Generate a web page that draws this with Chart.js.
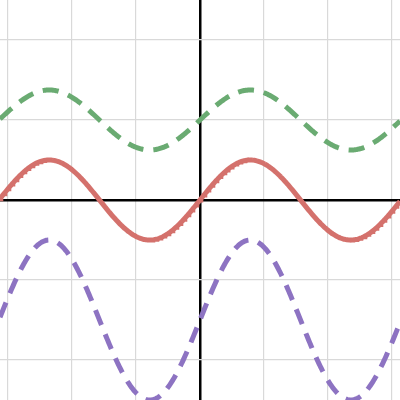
<!DOCTYPE html>
<html><head><meta charset="utf-8">
<script src="https://cdn.jsdelivr.net/npm/chart.js@4"></script>
<style>html,body{margin:0;padding:0;background:#fff}canvas{display:block}</style>
</head><body>
<canvas id="c" width="400" height="400"></canvas>
<script>
// Curves: y = offset + amplitude * sin(x)
const seriesNames = ["red", "green", "purple"];
const amplitudes = [1, 0.75, 2];
const offsets = [0, 2, -3];
const xTicks = [-6, -4, -2, 0, 2, 4, 6];
const yTicks = [-4, -2, 0, 2, 4];
const colors = ["#d4716c", "#6aab72", "#8d73c2"];
const dashes = [[], [16, 10], [16, 10]];

const xs = [];
for (let i = 0; i <= 500; i++) xs.push(-6.25 + i * 12.5 / 500);

const datasets = seriesNames.map((n, k) => ({
  label: n,
  data: xs.map(x => ({x, y: offsets[k] + amplitudes[k] * Math.sin(x)})),
  borderColor: colors[k], borderWidth: 5, borderDash: dashes[k],
  pointRadius: 0, showLine: true, fill: false, tension: 0
}));

const gridOpt = {
  color: c => c.tick && c.tick.value === 0 ? "#000" : "#d9d9d9",
  lineWidth: c => c.tick && c.tick.value === 0 ? 2.5 : 1.2,
  drawTicks: false
};
new Chart(document.getElementById("c"), {
  type: "scatter",
  data: {datasets},
  options: {
    responsive: false, animation: false,
    layout: {padding: 0},
    plugins: {legend: {display: false}, tooltip: {enabled: false}},
    scales: {
      x: {type: "linear", min: -6.25, max: 6.25, ticks: {display: false},
          afterBuildTicks: a => { a.ticks = xTicks.map(v => ({value: v})); },
          grid: gridOpt, border: {display: false}},
      y: {type: "linear", min: -5, max: 5, ticks: {display: false},
          afterBuildTicks: a => { a.ticks = yTicks.map(v => ({value: v})); },
          grid: gridOpt, border: {display: false}}
    }
  }
});
</script>
</body></html>
